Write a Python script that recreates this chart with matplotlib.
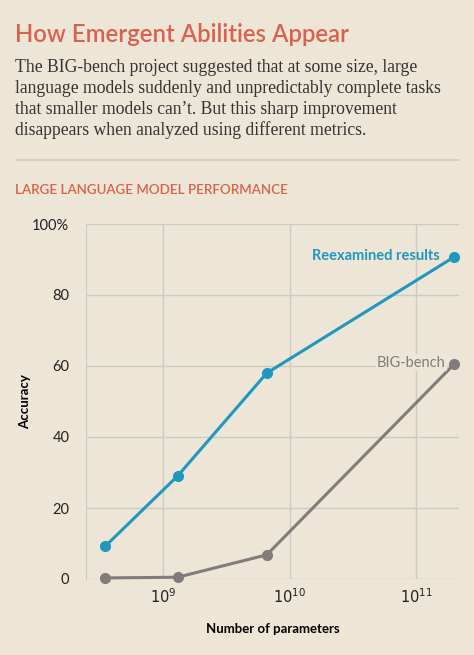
import matplotlib
matplotlib.use("Agg")
import matplotlib.pyplot as plt
import numpy as np

# data
params = [3.5e8, 1.3e9, 6.6e9, 2.0e11]
reexamined = [9.3, 29.0, 58.0, 90.7]
bigbench = [0.3, 0.5, 6.8, 60.5]
yticks = [0, 20, 40, 60, 80, 100]
ytick_labels = ["0", "20", "40", "60", "80", "100%"]
xticks = [1e9, 1e10, 1e11]

bg = "#EDE6D6"
coral = "#D9624F"
blue = "#1F97BF"
gray = "#807C7B"
grid = "#C9CCC2"

plt.rcParams["font.family"] = ["Lato", "DejaVu Sans"]

fig = plt.figure(figsize=(4.74, 6.55), dpi=100, facecolor=bg)
W, H = 474, 655

def fx(px):
    return px / W

def fy(py):
    return 1 - py / H

fig.text(fx(15), fy(35), "How Emergent Abilities Appear", color=coral,
         fontsize=17.2, fontweight="semibold", va="center", ha="left")

body = ("The BIG-bench project suggested that at some size, large\n"
        "language models suddenly and unpredictably complete tasks\n"
        "that smaller models can\u2019t. But this sharp improvement\n"
        "disappears when analyzed using different metrics.")
fig.text(fx(15), fy(59), body, color="#333333", fontsize=12.7,
         family=["Liberation Serif", "DejaVu Serif"], va="top", ha="left",
         linespacing=1.29)

fig.add_artist(plt.Line2D([fx(16), fx(459)], [fy(160), fy(160)],
                          color="#CFCBBF", lw=1.2, transform=fig.transFigure))

fig.text(fx(15), fy(190), "LARGE LANGUAGE MODEL PERFORMANCE", color=coral,
         fontsize=9.6, fontweight="semibold", va="center", ha="left")

ax = fig.add_axes([fx(86), fy(579), fx(459) - fx(86), fy(224) - fy(579)])
ax.set_facecolor(bg)
ax.set_xscale("log")
ax.set_xlim(10 ** 8.39, 10 ** 11.34)
ax.set_ylim(0, 100)
for s in ax.spines.values():
    s.set_visible(False)
ax.spines["left"].set_visible(True)
ax.spines["left"].set_color(grid)
ax.set_yticks(yticks)
ax.set_yticklabels(ytick_labels)
ax.set_xticks(xticks)
ax.set_xticklabels(["$10^{9}$", "$10^{10}$", "$10^{11}$"])
ax.xaxis.set_minor_locator(matplotlib.ticker.NullLocator())
ax.tick_params(length=0, labelsize=10.5, colors="#222222")
ax.tick_params(axis="y", pad=12)
ax.tick_params(axis="x", pad=6)
ax.grid(True, color=grid, lw=1)
ax.set_axisbelow(True)

ax.plot(params, bigbench, color=gray, lw=2.2, marker="o", ms=7, zorder=3,
        clip_on=False)
ax.plot(params, reexamined, color=blue, lw=2.2, marker="o", ms=7, zorder=3,
        clip_on=False)

ax.annotate("Reexamined results", (params[-1], reexamined[-1]),
            xytext=(-10, 1), textcoords="offset points", ha="right",
            va="center", color=blue, fontsize=10.5, fontweight="bold")
ax.annotate("BIG-bench", (params[-1], bigbench[-1]),
            xytext=(-6, 1), textcoords="offset points", ha="right",
            va="center", color=gray, fontsize=10.5, zorder=4,
            bbox=dict(boxstyle="square,pad=0.1", fc=bg, ec="none"))

ax.set_ylabel("Accuracy", fontsize=9.5, fontweight="bold")
ax.yaxis.set_label_coords((31 - 86) / 373, 0.5)
ax.set_xlabel("Number of parameters", fontsize=9.5, fontweight="bold",
              labelpad=12)

fig.savefig("out.png", dpi=100, facecolor=bg)
